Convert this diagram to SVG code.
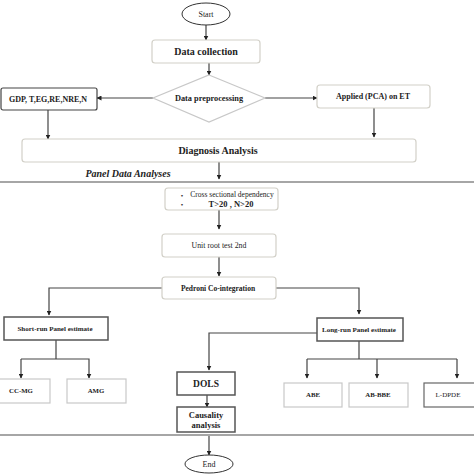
<svg xmlns="http://www.w3.org/2000/svg" width="474" height="474" viewBox="0 0 474 474">
<defs>
<marker id="ah" viewBox="0 0 10 10" refX="9" refY="5" markerWidth="5" markerHeight="5" orient="auto" markerUnits="userSpaceOnUse"><path d="M0,0 L10,5 L0,10 z" fill="#222"/></marker>
<style>
.lt{fill:#fff;stroke:#d2d0c8;stroke-width:1.2}
.dk{fill:#fff;stroke:#555;stroke-width:1.5}
.gy{fill:#fff;stroke:#c8c8c8;stroke-width:1.2}
.c{fill:none;stroke:#444;stroke-width:1.2}
.sep{stroke:#888;stroke-width:1.5}
text{font-family:"Liberation Serif","DejaVu Serif",serif;fill:#222;text-anchor:middle}
.b{font-weight:bold}
</style>
</defs>
<rect width="474" height="474" fill="#fff"/>
<line class="sep" x1="0" y1="182" x2="474" y2="182"/>
<line class="sep" x1="0" y1="435" x2="474" y2="435"/>
<g id="connectors">
<line class="c" x1="206" y1="25" x2="206" y2="40" marker-end="url(#ah)"/>
<line class="c" x1="209" y1="63" x2="209" y2="75" marker-end="url(#ah)"/>
<line class="c" x1="153" y1="98" x2="97" y2="98" marker-end="url(#ah)"/>
<line class="c" x1="265" y1="98" x2="317" y2="98" marker-end="url(#ah)"/>
<line class="c" x1="48" y1="110" x2="48" y2="139" marker-end="url(#ah)"/>
<line class="c" x1="374" y1="108" x2="374" y2="137" marker-end="url(#ah)"/>
<line class="c" x1="219" y1="162" x2="219" y2="179" marker-end="url(#ah)"/>
<line class="c" x1="219" y1="210" x2="219" y2="229" marker-end="url(#ah)"/>
<line class="c" x1="219" y1="257" x2="219" y2="276" marker-end="url(#ah)"/>
<polyline class="c" points="162,288 49,288 49,315" marker-end="url(#ah)"/>
<polyline class="c" points="276,288 359,288 359,314" marker-end="url(#ah)"/>
<line class="c" x1="56" y1="340" x2="56" y2="359"/>
<polyline class="c" points="21,359 89,359 89,378" marker-end="url(#ah)"/>
<line class="c" x1="21" y1="359" x2="21" y2="378" marker-end="url(#ah)"/>
<polyline class="c" points="317,333 209,333 209,370" marker-end="url(#ah)"/>
<line class="c" x1="359" y1="341" x2="359" y2="359"/>
<polyline class="c" points="307,359 457,359"/>
<line class="c" x1="307" y1="359" x2="307" y2="378" marker-end="url(#ah)"/>
<line class="c" x1="377" y1="359" x2="377" y2="378" marker-end="url(#ah)"/>
<line class="c" x1="457" y1="359" x2="457" y2="378" marker-end="url(#ah)"/>
<line class="c" x1="207" y1="395" x2="207" y2="407" marker-end="url(#ah)"/>
<line class="c" x1="209" y1="436" x2="209" y2="455" marker-end="url(#ah)"/>
</g>
<g id="start"><ellipse cx="206" cy="14" rx="24" ry="11" fill="#fff" stroke="#333" stroke-width="1"/><text x="206" y="17" font-size="8">Start</text></g>
<g id="data-collection"><rect class="lt" x="152" y="40" width="108" height="23" rx="3"/><text class="b" x="206" y="55" font-size="10">Data collection</text></g>
<g id="data-preprocessing"><polygon class="gy" points="209,75 265,98 209,122 153,98"/><text x="209" y="101" font-size="8.3" style="font-weight:600">Data preprocessing</text></g>
<g id="gdp"><rect x="1" y="88" width="96" height="22" rx="2" fill="#fff" stroke="#444" stroke-width="1.2"/><text class="b" x="48" y="102" font-size="8">GDP, T,EG,RE,NRE,N</text></g>
<g id="pca"><rect class="lt" x="317" y="85" width="113" height="23" rx="3"/><text x="373" y="99" font-size="8" style="font-weight:600">Applied (PCA) on ET</text></g>
<g id="diagnosis"><rect class="lt" x="22" y="139" width="394" height="23" rx="3"/><text class="b" x="218" y="154" font-size="10">Diagnosis Analysis</text></g>
<text class="b" x="128" y="177" font-size="10" font-style="italic">Panel Data Analyses</text>
<g id="cross-sectional"><rect class="lt" x="165" y="188" width="113" height="22" rx="3"/><text x="182" y="198" font-size="7">•</text><text x="182" y="207" font-size="7">•</text><text x="232" y="197" font-size="7.5" fill="#444">Cross sectional dependency</text><text class="b" x="231" y="207" font-size="8.5">T&gt;20 , N&gt;20</text></g>
<g id="unit-root"><rect class="lt" x="162" y="234" width="114" height="23" rx="3"/><text x="219" y="248" font-size="7.8" fill="#555">Unit root test 2nd</text></g>
<g id="pedroni"><rect class="lt" x="162" y="277" width="114" height="22" rx="3"/><text class="b" x="218" y="291" font-size="7.5">Pedroni Co-integration</text></g>
<g id="short-run"><rect class="dk" x="4" y="317" width="104" height="23"/><text class="b" x="55" y="331" font-size="7">Short-run Panel estimate</text></g>
<g id="long-run"><rect class="dk" x="317" y="318" width="86" height="23"/><text class="b" x="359" y="332" font-size="7">Long-run Panel estimate</text></g>
<g id="cc-mg"><rect class="gy" x="-2" y="379" width="52" height="24"/><text class="b" x="21" y="393" font-size="6.8">CC-MG</text></g>
<g id="amg"><rect class="gy" x="67" y="379" width="59" height="24"/><text class="b" x="96" y="393" font-size="6.8">AMG</text></g>
<g id="dols"><rect class="dk" x="177" y="372" width="58" height="23"/><text class="b" x="206" y="387" font-size="9.5">DOLS</text></g>
<g id="causality"><rect class="dk" x="177" y="407" width="58" height="25"/><text class="b" x="206" y="418" font-size="8.5">Causality</text><text class="b" x="206" y="428" font-size="8.5">analysis</text></g>
<g id="abe"><rect class="gy" x="284" y="383" width="58" height="24"/><text class="b" x="313" y="397" font-size="6.8">ABE</text></g>
<g id="ab-bbe"><rect class="gy" x="349" y="383" width="59" height="24"/><text class="b" x="378" y="397" font-size="6.8">AB-BBE</text></g>
<g id="l-dpde"><rect x="424" y="383" width="52" height="24" fill="#fff" stroke="#666" stroke-width="1.2"/><text x="448" y="397" font-size="7" font-family="Liberation Sans">L-DPDE</text></g>
<g id="end"><ellipse cx="209" cy="464" rx="24" ry="9" fill="#fff" stroke="#333" stroke-width="1"/><text x="209" y="467" font-size="8">End</text></g>
</svg>
